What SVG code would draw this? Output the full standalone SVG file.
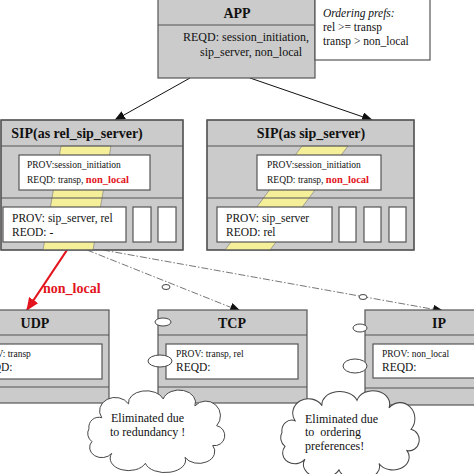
<svg xmlns="http://www.w3.org/2000/svg" width="474" height="474" viewBox="0 0 474 474" font-family="'Liberation Serif', 'DejaVu Serif', serif">
<style>
.box{fill:#cbcbcb;stroke:#555;stroke-width:1.2}
.frame{fill:none;stroke:#555;stroke-width:1.2}
.wbox{fill:#fff;stroke:#555;stroke-width:1.2}
.div{stroke:#555;stroke-width:1.2}
.band{fill:#f6ef9a;stroke:#777;stroke-width:0.6}
.t{font-family:'Liberation Serif','DejaVu Serif',serif;fill:#111}
.title{font-weight:bold;font-size:14px}
.small{font-size:9.5px}
.mid{font-size:11.5px}
.red{fill:#e3141e;font-weight:bold}
.conn{stroke:#111;stroke-width:1;fill:none}
.dd{stroke:#666;stroke-width:0.9;stroke-dasharray:7 2 1.5 2;fill:none}
.ring{fill:#fff;stroke:#444;stroke-width:1}
.cloud{fill:#fff;stroke:#444;stroke-width:1}
</style>
<defs>
<marker id="ah" markerWidth="11" markerHeight="9" refX="10" refY="4.5" orient="auto" markerUnits="userSpaceOnUse"><path d="M0,0 L11,4.5 L0,9 z" fill="#111"/></marker>
<marker id="ahr" markerWidth="13" markerHeight="11" refX="12" refY="5.5" orient="auto" markerUnits="userSpaceOnUse"><path d="M0,0 L13,5.5 L0,11 z" fill="#e3141e"/></marker>
<linearGradient id="g" x1="0" y1="0" x2="1" y2="0"><stop offset="0" stop-color="#555"/><stop offset="0.5" stop-color="#ddd"/><stop offset="1" stop-color="#555"/></linearGradient>
<path id="cl" d="M18,24 A14,12 0 0 1 45,10 A18,12 0 0 1 80,5 A16,12 0 0 1 112,12 A14,14 0 0 1 134,32 A10,10 0 0 1 130,52 A16,12 0 0 1 102,64 A20,12 0 0 1 62,70 A18,12 0 0 1 28,60 A12,10 0 0 1 8,48 A10,10 0 0 1 5,35 A10,10 0 0 1 18,24 Z"/>
</defs>

<g id="connectors">
<line class="conn" x1="190" y1="78" x2="115" y2="120" marker-end="url(#ah)"/>
<line class="conn" x1="250" y1="78" x2="372" y2="120" marker-end="url(#ah)"/>
<line x1="67" y1="250" x2="27" y2="310" stroke="#e3141e" stroke-width="2.2" marker-end="url(#ahr)"/>
<text class="t red" x="43" y="293" font-size="14">non_local</text>
<line class="dd" x1="87" y1="250" x2="240" y2="311" marker-end="url(#ah)"/>
<line class="dd" x1="103" y1="250" x2="443" y2="311" marker-end="url(#ah)"/>
<ellipse class="ring" cx="166" cy="287" rx="4" ry="2.5"/>
<ellipse class="ring" cx="363" cy="297" rx="4" ry="2.5"/>
</g>

<g id="app">
<rect class="box" x="158" y="-1" width="157" height="79"/>
<line class="div" x1="158" y1="25" x2="315" y2="25"/>
<text class="t title" x="237" y="18" text-anchor="middle">APP</text>
<text class="t" x="183" y="41" font-size="12">REQD: session_initiation,</text>
<text class="t" x="200" y="56" font-size="12">sip_server, non_local</text>
</g>

<g id="prefs">
<rect class="wbox" x="315" y="-1" width="115" height="61"/>
<text class="t" x="323" y="17" font-size="11.5" font-style="italic">Ordering prefs:</text>
<text class="t" x="323" y="31" font-size="11.5">rel &gt;= transp</text>
<text class="t" x="323" y="45" font-size="11.5">transp &gt; non_local</text>
</g>

<g id="sip-rel">
<rect class="box" x="1" y="120" width="182" height="130"/>
<polygon class="band" points="61,146 111,146 93,250 43,250"/>
<line class="div" x1="1" y1="146" x2="183" y2="146"/>
<line class="div" x1="1" y1="198" x2="183" y2="198"/>
<rect class="frame" x="1" y="120" width="182" height="130"/>
<text class="t title" x="77" y="138" text-anchor="middle">SIP(as rel_sip_server)</text>
<rect class="wbox" x="19" y="155" width="131" height="35"/>
<text class="t small" x="27" y="168">PROV:session_initiation</text>
<text class="t small" x="27" y="183">REQD: transp, <tspan class="red" font-size="10.5">non_local</tspan></text>
<rect class="wbox" x="3" y="207" width="123" height="35"/>
<text class="t mid" x="12" y="222">PROV: sip_server, rel</text>
<text class="t mid" x="12" y="236">REOD: -</text>
<rect class="wbox" x="133" y="207" width="18" height="35"/>
<rect class="wbox" x="158" y="207" width="18" height="35"/>
</g>

<g id="sip-server">
<rect class="box" x="207" y="120" width="207" height="130"/>
<polygon class="band" points="302,146 348,146 270,250 225,250"/>
<line class="div" x1="207" y1="146" x2="414" y2="146"/>
<line class="div" x1="207" y1="198" x2="414" y2="198"/>
<rect class="frame" x="207" y="120" width="207" height="130"/>
<text class="t title" x="311" y="138" text-anchor="middle">SIP(as sip_server)</text>
<rect class="wbox" x="257" y="155" width="124" height="35"/>
<text class="t small" x="267" y="168">PROV:session_initiation</text>
<text class="t small" x="267" y="183">REQD: transp, <tspan class="red" font-size="10.5">non_local</tspan></text>
<rect class="wbox" x="217" y="207" width="115" height="35"/>
<text class="t mid" x="226" y="222">PROV: sip_server</text>
<text class="t mid" x="226" y="236">REOD: rel</text>
<rect class="wbox" x="339" y="207" width="17" height="35"/>
<rect class="wbox" x="364" y="207" width="17" height="35"/>
<rect class="wbox" x="389" y="207" width="17" height="35"/>
</g>

<g id="udp">
<rect class="box" x="-40" y="310" width="149" height="93"/>
<line class="div" x1="-40" y1="335" x2="109" y2="335"/>
<line class="div" x1="-40" y1="387" x2="109" y2="387"/>
<text class="t title" x="35" y="328" text-anchor="middle">UDP</text>
<rect class="wbox" x="-32" y="344" width="134" height="35"/>
<text class="t small" x="-22" y="357">PROV: transp</text>
<text class="t mid" x="-22" y="371">REQD:</text>
</g>

<g id="tcp">
<rect class="box" x="158" y="310" width="149" height="93"/>
<line class="div" x1="158" y1="335" x2="307" y2="335"/>
<line class="div" x1="158" y1="387" x2="307" y2="387"/>
<text class="t title" x="232" y="328" text-anchor="middle">TCP</text>
<rect class="wbox" x="166" y="344" width="132" height="35"/>
<text class="t small" x="176" y="357">PROV: transp, rel</text>
<text class="t mid" x="176" y="371">REQD:</text>
<ellipse class="ring" cx="163" cy="322" rx="8" ry="4"/>
<ellipse class="ring" cx="160" cy="361" rx="12" ry="6"/>
</g>

<g id="ip">
<rect class="box" x="365" y="310" width="149" height="95"/>
<line class="div" x1="365" y1="335" x2="474" y2="335"/>
<line class="div" x1="365" y1="388" x2="474" y2="388"/>
<text class="t title" x="439" y="328" text-anchor="middle">IP</text>
<rect class="wbox" x="373" y="344" width="132" height="34"/>
<text class="t small" x="382" y="357">PROV: non_local</text>
<text class="t mid" x="382" y="371">REQD:</text>
<ellipse class="ring" cx="360" cy="328" rx="7" ry="4"/>
<ellipse class="ring" cx="355" cy="366" rx="12" ry="7"/>
</g>

<g id="cloud-redundancy">
<use href="#cl" class="cloud" transform="translate(84,394) scale(0.99,0.99)"/>
<text class="t" x="111" y="422" font-size="12">Eliminated due</text>
<text class="t" x="110" y="436" font-size="12">to redundancy !</text>
</g>

<g id="cloud-ordering">
<ellipse cx="355" cy="474" rx="9" ry="5" fill="url(#g)"/>
<use href="#cl" class="cloud" transform="translate(277,395) scale(1.0,1.07)"/>
<text class="t" x="305" y="423" font-size="12">Eliminated due</text>
<text class="t" x="305" y="436" font-size="12" style="white-space:pre">to  ordering</text>
<text class="t" x="305" y="450" font-size="12">preferences!</text>
</g>
</svg>
